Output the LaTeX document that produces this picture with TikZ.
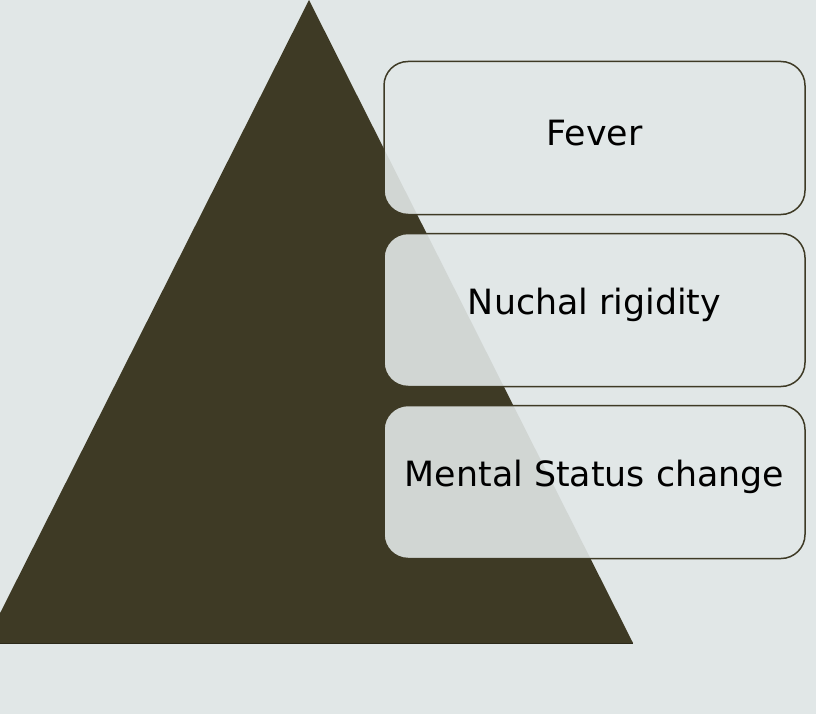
\documentclass[tikz,border=0pt]{standalone}
\usepackage{fontspec}
\setmainfont{DejaVu Sans}
\definecolor{bgc}{HTML}{E1E7E7}
\definecolor{olive}{HTML}{3E3A25}
\begin{document}
\begin{tikzpicture}[x=1pt,y=-1pt,
  itembox/.style={draw=olive, line width=1.5pt, rounded corners=24pt, fill=bgc, fill opacity=0.9, text opacity=1,
    minimum width=421pt, minimum height=153pt, inner sep=0pt, font=\fontsize{34.8}{40}\selectfont, text=black},
  itemtext/.style={font=\fontsize{34.8}{40}\selectfont, text=black, inner sep=0pt}]
\fill[bgc] (0,0) rectangle (816,714);
\useasboundingbox (0,0) rectangle (816,714);
\fill[olive] (309,0) -- (633,643) -- (-15,643) -- cycle;
\draw[olive!70!black, line width=0.8pt] (-15,643) -- (633,643);
\node[itembox] (fever) at (594.5,138) {};
\node[itembox] (nuchal) at (594.5,310) {};
\node[itembox] (mental) at (594.5,482) {};
\node[itemtext, yshift=5pt] (tfever) at (fever) {Fever};
\node[itemtext, yshift=5pt] (tnuchal) at (nuchal) {Nuchal rigidity};
\node[itemtext, yshift=5pt] (tmental) at (mental) {Mental Status change};
\end{tikzpicture}
\end{document}
